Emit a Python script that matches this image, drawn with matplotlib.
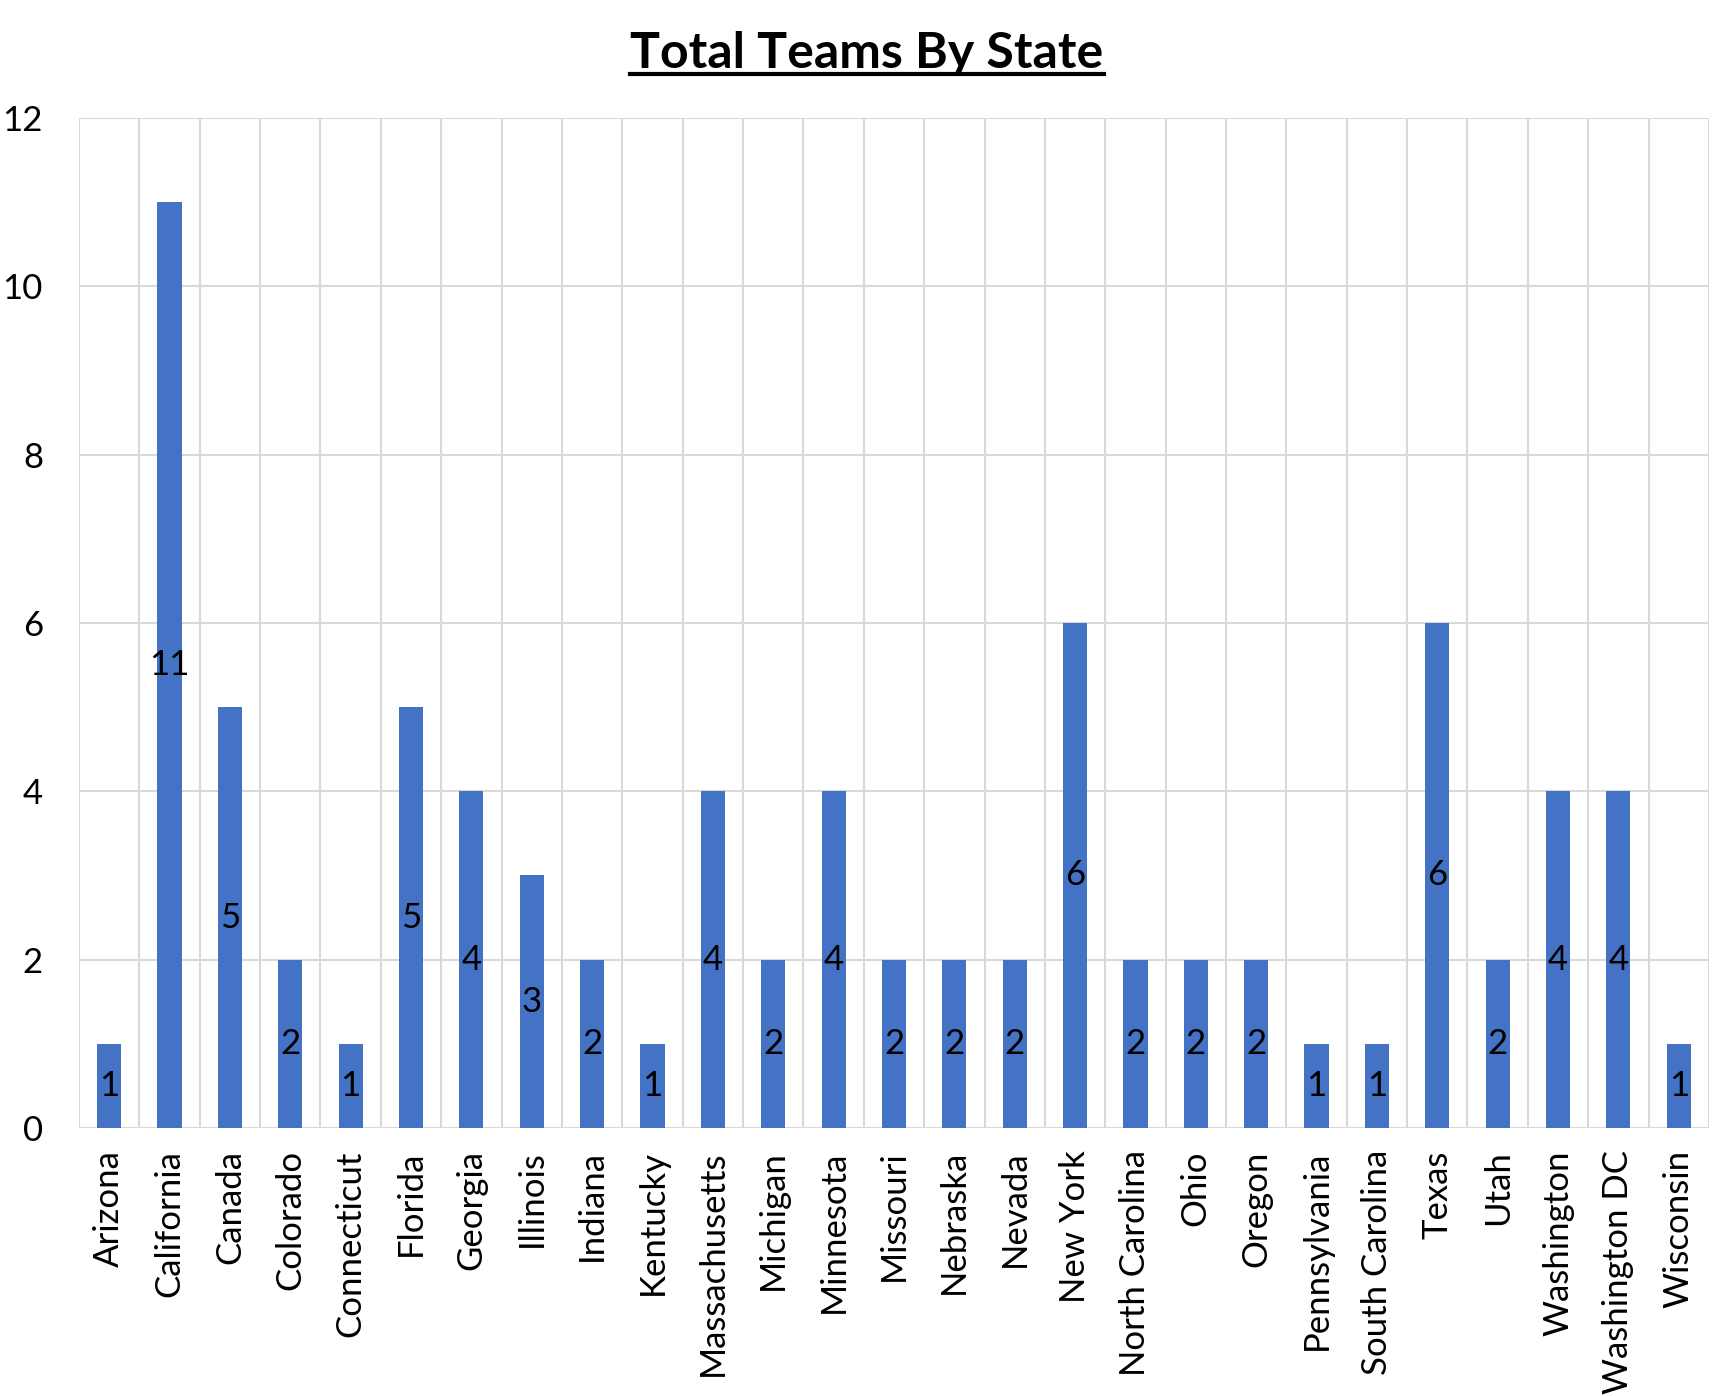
import numpy as np
import matplotlib.pyplot as plt
from matplotlib.lines import Line2D

# Team counts
states = ['Arizona', 'California', 'Canada', 'Colorado', 'Connecticut', 'Florida',
          'Georgia', 'Illinois', 'Indiana', 'Kentucky', 'Massachusetts', 'Michigan',
          'Minnesota', 'Missouri', 'Nebraska', 'Nevada', 'New York', 'North Carolina',
          'Ohio', 'Oregon', 'Pennsylvania', 'South Carolina', 'Texas', 'Utah',
          'Washington', 'Washington DC', 'Wisconsin']
teams = [1, 11, 5, 2, 1, 5, 4, 3, 2, 1, 4, 2, 4, 2, 2, 2, 6, 2, 2, 2, 1, 1, 6, 2, 4, 4, 1]
y_ticks = [0, 2, 4, 6, 8, 10, 12]

plt.rcParams['font.family'] = ['Lato', 'DejaVu Sans']

fig = plt.figure(figsize=(17.29, 13.96), dpi=100)
ax = fig.add_axes([0.0457, 0.192, 0.9427, 0.7235])

x = np.arange(len(states))
bars = ax.bar(x, teams, width=0.4, color='#4472C4', zorder=3)

# labels sit in the middle of each bar
for xi, v in zip(x, teams):
    ax.text(xi, v / 2, str(v), ha='center', va='center', fontsize=25, zorder=4)

ax.set_xlim(-0.5, len(states) - 0.5)
ax.set_ylim(0, 12)
ax.set_yticks(y_ticks)
ax.set_xticks(x)
ax.set_xticklabels(states, rotation=90, fontsize=25)
ax.tick_params(axis='y', length=0, pad=26, labelsize=25)
ax.tick_params(axis='x', length=0, pad=16)

# grid: horizontal at ticks, vertical between categories
grid_col = '#d9d9d9'
for yv in y_ticks:
    ax.axhline(yv, color=grid_col, lw=1.5, zorder=1)
for b in np.arange(-0.5, len(states), 1.0):
    ax.axvline(b, color=grid_col, lw=1.5, zorder=1)
for s in ax.spines.values():
    s.set_visible(False)

title = fig.text(0.5015, 0.962, 'Total Teams By State', ha='center', va='center',
                 fontsize=36, fontweight='bold')

# underline the title
fig.canvas.draw()
bb = title.get_window_extent().transformed(fig.transFigure.inverted())
uy = bb.y0 + 0.001
fig.add_artist(Line2D([bb.x0, bb.x1], [uy, uy], transform=fig.transFigure,
                      color='black', lw=3))

fig.savefig('out.png', dpi=100)
